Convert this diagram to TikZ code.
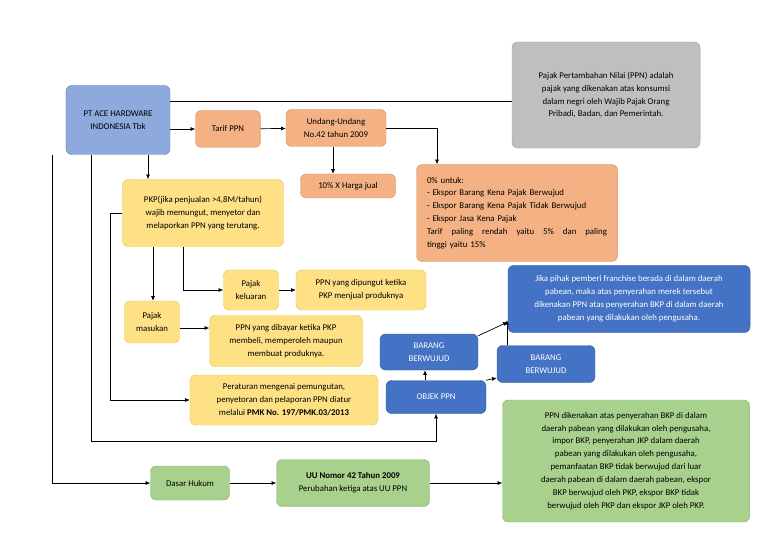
\documentclass[tikz,border=0pt]{standalone}
\usepackage{fontspec}
\setmainfont{Carlito}
\usetikzlibrary{arrows.meta,positioning}
\definecolor{lightblue}{HTML}{8EA9DB}
\definecolor{salmon}{HTML}{F4B183}
\definecolor{sunny}{HTML}{FFD966}
\definecolor{royal}{HTML}{4472C4}
\definecolor{leaf}{HTML}{A9D18E}
\definecolor{stone}{HTML}{BFBFBF}

\begin{document}
\begin{tikzpicture}[x=0.03cm,y=-0.03cm,
	box/.style={rounded corners=5pt,align=center,inner sep=2pt,
		font=\fontsize{7.5}{11}\selectfont},
	headbox/.style={box,fill=lightblue,draw=lightblue!80!black},
	ratebox/.style={box,fill=salmon,draw=salmon!85!black},
	pkpbox/.style={box,fill=sunny!80,draw=sunny!90!black},
	objbox/.style={box,fill=royal,draw=royal!80!black,text=white},
	lawbox/.style={box,fill=leaf,draw=leaf!85!black},
	notebox/.style={box,fill=stone,draw=stone!85!black},
	link/.style={semithick,-{Latex[length=4pt,width=3.5pt]}}]
	% Fix the page size.
	\useasboundingbox (0,0) rectangle (768,543);

	% Company and tariff branch.
	\node[headbox, minimum width=3.12cm, minimum height=2.07cm] (ace) at (118,120) {PT ACE HARDWARE\\INDONESIA Tbk};
	\node[ratebox, minimum width=1.95cm, minimum height=1.11cm] (tarif) at (228,129) {Tarif PPN};
	\node[ratebox, minimum width=3cm, minimum height=1.11cm] (uu) at (336,128) {Undang-Undang\\No.42 tahun 2009};
	\node[ratebox, minimum width=2.85cm, minimum height=0.72cm] (harga) at (348,186) {10\% X Harga jual};
	\node[ratebox, minimum width=6.03cm, minimum height=2.91cm, text width=5.4cm, align=left] (nol) at (517,213)
		{0\% untuk:\\- Ekspor Barang Kena Pajak Berwujud\\- Ekspor Barang Kena Pajak Tidak Berwujud\\- Ekspor Jasa Kena Pajak\\Tarif\hfill paling\hfill rendah\hfill yaitu\hfill 5\%\hfill dan\hfill paling\\tinggi yaitu 15\%};
	\node[notebox, minimum width=5.64cm, minimum height=3.18cm] (ppn) at (606,95)
		{Pajak Pertambahan Nilai (PPN) adalah\\pajak yang dikenakan atas konsumsi\\dalam negri oleh Wajib Pajak Orang\\Pribadi, Badan, dan Pemerintah.};

	% PKP branch.
	\node[pkpbox, minimum width=4.83cm, minimum height=2.01cm] (pkp) at (203,213)
		{PKP(jika penjualan >4,8M/tahun)\\wajib memungut, menyetor dan\\melaporkan PPN yang terutang.};
	\node[pkpbox, minimum width=1.65cm, minimum height=1.2cm] (keluar) at (251,290) {Pajak\\keluaran};
	\node[pkpbox, minimum width=3.9cm, minimum height=1.2cm] (pungut) at (361,290) {PPN yang dipungut ketika\\PKP menjual produknya};
	\node[pkpbox, minimum width=1.65cm, minimum height=1.26cm] (masuk) at (152,322) {Pajak\\masukan};
	\node[pkpbox, minimum width=4.59cm, minimum height=1.53cm] (bayar) at (286,341) {PPN yang dibayar ketika PKP\\membeli, memperoleh maupun\\membuat produknya.};
	\node[pkpbox, minimum width=5.64cm, minimum height=1.5cm] (atur) at (284,400) {Peraturan mengenai pemungutan,\\penyetoran dan pelaporan PPN diatur\\melalui \textbf{PMK No. 197/PMK.03/2013}};

	% Object branch.
	\node[objbox, minimum width=3cm, minimum height=0.99cm] (objek) at (436,397) {OBJEK PPN};
	\node[objbox, minimum width=2.94cm, minimum height=1.08cm] (brgA) at (429,352) {BARANG\\BERWUJUD};
	\node[objbox, minimum width=2.94cm, minimum height=1.11cm] (brgB) at (546,364) {BARANG\\BERWUJUD};
	\node[objbox, minimum width=7.26cm, minimum height=2.01cm] (jika) at (629,299)
		{Jika pihak pemberi franchise berada di dalam daerah\\pabean, maka atas penyerahan merek tersebut\\dikenakan PPN atas penyerahan BKP di dalam daerah\\pabean yang dilakukan oleh pengusaha.};

	% Legal basis branch.
	\node[lawbox, minimum width=2.37cm, minimum height=1.02cm] (dasar) at (190,483) {Dasar Hukum};
	\node[lawbox, minimum width=4.59cm, minimum height=1.41cm] (nomor) at (353,483) {\textbf{UU Nomor 42 Tahun 2009}\\Perubahan ketiga atas UU PPN};
	\node[lawbox, minimum width=7.41cm, minimum height=3.66cm] (luas) at (626,461)
		{PPN dikenakan atas penyerahan BKP di dalam\\daerah pabean yang dilakukan oleh pengusaha,\\impor BKP, penyerahan JKP dalam daerah\\pabean yang dilakukan oleh pengusaha,\\pemanfaatan BKP tidak berwujud dari luar\\daerah pabean di dalam daerah pabean, ekspor\\BKP berwujud oleh PKP, ekspor BKP tidak\\berwujud oleh PKP dan ekspor JKP oleh PKP.};

	% Connectors.
	\draw[semithick] (ace.east |- 0,101) -- (ppn.west |- 0,101);
	\draw[link] (ace.east |- tarif) -- (tarif);
	\draw[link] (tarif) -- (uu);
	\draw[link] (uu.south -| 333,0) -- (harga.north -| 333,0);
	\draw[link] (uu.east) -| (nol.north -| 437,0);
	\draw[link] (ace.south -| 148,0) -- (pkp.north -| 148,0);
	\draw[link] (ace.south -| 52,0) |- (dasar.west);
	\draw[link] (ace.south -| 91,0) |- (436,441) -- (objek.south);
	\draw[link] (pkp.west) -| (110,400) -- (atur.west);
	\draw[link] (pkp.south -| 153,0) -- (masuk.north -| 153,0);
	\draw[link] (pkp.south -| 183,0) |- (keluar.west);
	\draw[link] (keluar) -- (pungut);
	\draw[link] (masuk.east |- 0,328) -- (bayar.west |- 0,328);
	\draw[link] (objek.north -| 425,0) -- (brgA.south -| 425,0);
	\draw[link] (objek.north east) -- (brgB.west |- 0,378);
	\draw[link] (brgA.north east) ++(0,2) -- (jika.west |- 0,322);
	\draw[link] (brgB.north -| 507,0) -- (507,320);
	\draw[link] (dasar) -- (nomor);
	\draw[link] (nomor) -- (luas.west |- nomor);
\end{tikzpicture}
\end{document}
